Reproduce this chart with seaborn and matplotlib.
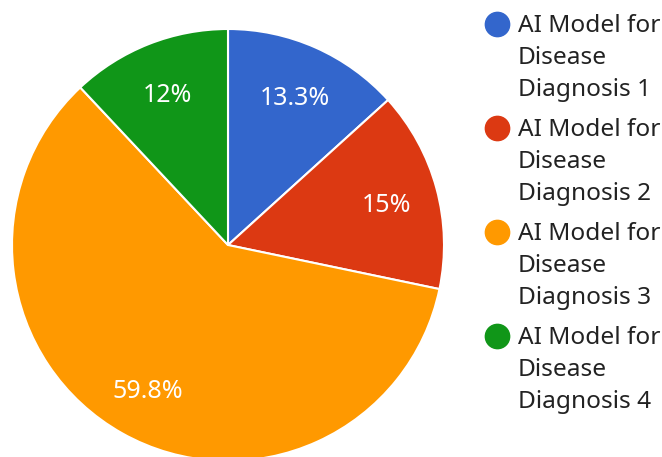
import matplotlib
matplotlib.use("Agg")
import numpy as np
import matplotlib.pyplot as plt
import seaborn as sns
from matplotlib.lines import Line2D

# Data
legend_labels = ["AI Model for\nDisease\nDiagnosis 1", "AI Model for\nDisease\nDiagnosis 2",
                 "AI Model for\nDisease\nDiagnosis 3", "AI Model for\nDisease\nDiagnosis 4"]
values = [13.3, 15.0, 59.8, 12.0]
pct_labels = ["13.3%", "15%", "59.8%", "12%"]
colors = sns.color_palette(["#3366CC", "#DC3912", "#FF9900", "#109618"])

sns.set_theme(style="white")
plt.rcParams['font.family'] = ['Noto Sans', 'DejaVu Sans']

W, H = 662, 457
fig = plt.figure(figsize=(W / 100, H / 100), dpi=100)

# pie centre (228, 245) px, radius 216 px
cx, cy, r = 228, 245, 216
ax = fig.add_axes([(cx - r) / W, (H - cy - r) / H, 2 * r / W, 2 * r / H])
wedges, _ = ax.pie(values, colors=colors, startangle=90, counterclock=False,
                   radius=1, wedgeprops=dict(edgecolor="white", linewidth=1.5))
ax.set_xlim(-1, 1)
ax.set_ylim(-1, 1)
ax.set_aspect("equal")
ax.axis("off")

# percentage labels
start = 90
total = sum(values)
for v, txt in zip(values, pct_labels):
    mid = np.deg2rad(start - v / total * 180)
    start -= v / total * 360
    ax.text(0.76 * np.cos(mid), 0.76 * np.sin(mid) - 0.015, txt, color="white",
            ha="center", va="center", fontsize=18)

# legend drawn by hand: circle + three-line label
for i, (c, lab) in enumerate(zip(colors, legend_labels)):
    y = 1 - (24 + 104 * i) / H
    fig.add_artist(Line2D([497 / W], [y], marker="o", markersize=17.5,
                          color=c, linestyle="", transform=fig.transFigure))
    fig.text(518 / W, 1 - (14 + 104 * i) / H, lab, color="#222222",
             fontsize=17.6, ha="left", va="top", linespacing=1.45)

fig.savefig("out.png", dpi=100)
